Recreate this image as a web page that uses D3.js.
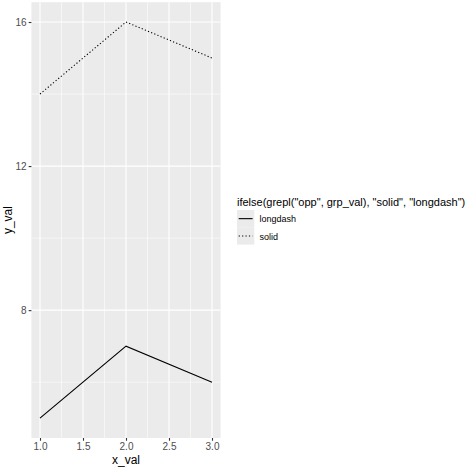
<!DOCTYPE html>
<html>
<head>
<meta charset="utf-8">
<script src="https://cdn.jsdelivr.net/npm/d3@7"></script>
<style>
  body { margin: 0; background: #fff; }
  text { font-family: "Liberation Sans", Arial, sans-serif; }
</style>
</head>
<body>
<svg id="chart" width="474" height="470"></svg>
<script>
  // data
  const xVals = [1, 2, 3];
  const groups = ["longdash", "solid"];
  const longdashVals = [5, 7, 6];
  const solidVals = [14, 16, 15];
  const xTicks = [1.0, 1.5, 2.0, 2.5, 3.0];
  const yTicks = [8, 12, 16];
  const legendTitle = 'ifelse(grepl("opp", grp_val), "solid", "longdash")';

  const svg = d3.select("#chart");
  const panel = { left: 31.4, right: 220.6, top: 2.2, bottom: 438 };

  const x = d3.scaleLinear().domain([0.9, 3.1]).range([panel.left, panel.right]);
  const y = d3.scaleLinear().domain([4.45, 16.55]).range([panel.bottom, panel.top]);

  svg.append("rect")
    .attr("x", panel.left).attr("y", panel.top)
    .attr("width", panel.right - panel.left).attr("height", panel.bottom - panel.top)
    .attr("fill", "#ebebeb");

  // minor grid
  const xMinor = [1.25, 1.75, 2.25, 2.75];
  const yMinor = [6, 10, 14];
  svg.append("g").selectAll("line").data(xMinor).join("line")
    .attr("x1", d => x(d)).attr("x2", d => x(d))
    .attr("y1", panel.top).attr("y2", panel.bottom)
    .attr("stroke", "#fff").attr("stroke-width", 0.55);
  svg.append("g").selectAll("line").data(yMinor).join("line")
    .attr("y1", d => y(d)).attr("y2", d => y(d))
    .attr("x1", panel.left).attr("x2", panel.right)
    .attr("stroke", "#fff").attr("stroke-width", 0.55);
  // major grid
  svg.append("g").selectAll("line").data(xTicks).join("line")
    .attr("x1", d => x(d)).attr("x2", d => x(d))
    .attr("y1", panel.top).attr("y2", panel.bottom)
    .attr("stroke", "#fff").attr("stroke-width", 1.1);
  svg.append("g").selectAll("line").data(yTicks).join("line")
    .attr("y1", d => y(d)).attr("y2", d => y(d))
    .attr("x1", panel.left).attr("x2", panel.right)
    .attr("stroke", "#fff").attr("stroke-width", 1.1);

  // axes
  const xAxis = svg.append("g")
    .attr("transform", `translate(0,${panel.bottom})`)
    .call(d3.axisBottom(x).tickValues(xTicks).tickFormat(d3.format(".1f")).tickSize(2.75).tickPadding(2));
  const yAxis = svg.append("g")
    .attr("transform", `translate(${panel.left},0)`)
    .call(d3.axisLeft(y).tickValues(yTicks).tickSize(2.75).tickPadding(2));
  [xAxis, yAxis].forEach(a => {
    a.select(".domain").remove();
    a.selectAll(".tick line").attr("stroke", "#333").attr("stroke-width", 1.1);
    a.selectAll(".tick text").attr("fill", "#4d4d4d").style("font-size", "10px")
      .style("font-family", '"Liberation Sans", Arial, sans-serif');
  });

  // lines
  const series = [
    { name: "longdash", vals: longdashVals, dash: null },
    { name: "solid", vals: solidVals, dash: "1.2,2.2" }
  ];
  const line = d3.line().x(d => x(d[0])).y(d => y(d[1]));
  series.forEach(s => {
    svg.append("path")
      .datum(xVals.map((v, i) => [v, s.vals[i]]))
      .attr("d", line)
      .attr("fill", "none")
      .attr("stroke", "#000")
      .attr("stroke-width", 1.1)
      .attr("stroke-dasharray", s.dash);
  });

  // axis titles
  svg.append("text")
    .attr("x", (panel.left + panel.right) / 2).attr("y", 464)
    .attr("text-anchor", "middle").style("font-size", "12px").attr("fill", "#000")
    .text("x_val");
  svg.append("text")
    .attr("transform", `translate(12,${(panel.top + panel.bottom) / 2}) rotate(-90)`)
    .attr("text-anchor", "middle").style("font-size", "12px").attr("fill", "#000")
    .text("y_val");

  // legend
  const lg = svg.append("g").attr("transform", "translate(237,0)");
  lg.append("text").attr("x", 0).attr("y", 205.5)
    .style("font-size", "11px").attr("fill", "#000").text(legendTitle);
  series.forEach((s, i) => {
    const top = 210 + i * 17.3;
    lg.append("rect").attr("x", 0).attr("y", top).attr("width", 17.3).attr("height", 17.3)
      .attr("fill", "#ebebeb");
    lg.append("line").attr("x1", 1.7).attr("x2", 15.6)
      .attr("y1", top + 8.65).attr("y2", top + 8.65)
      .attr("stroke", "#000").attr("stroke-width", 1.1)
      .attr("stroke-dasharray", s.dash);
    lg.append("text").attr("x", 22.5).attr("y", top + 12.2)
      .style("font-size", "9px").attr("fill", "#000").text(s.name);
  });
</script>
</body>
</html>
